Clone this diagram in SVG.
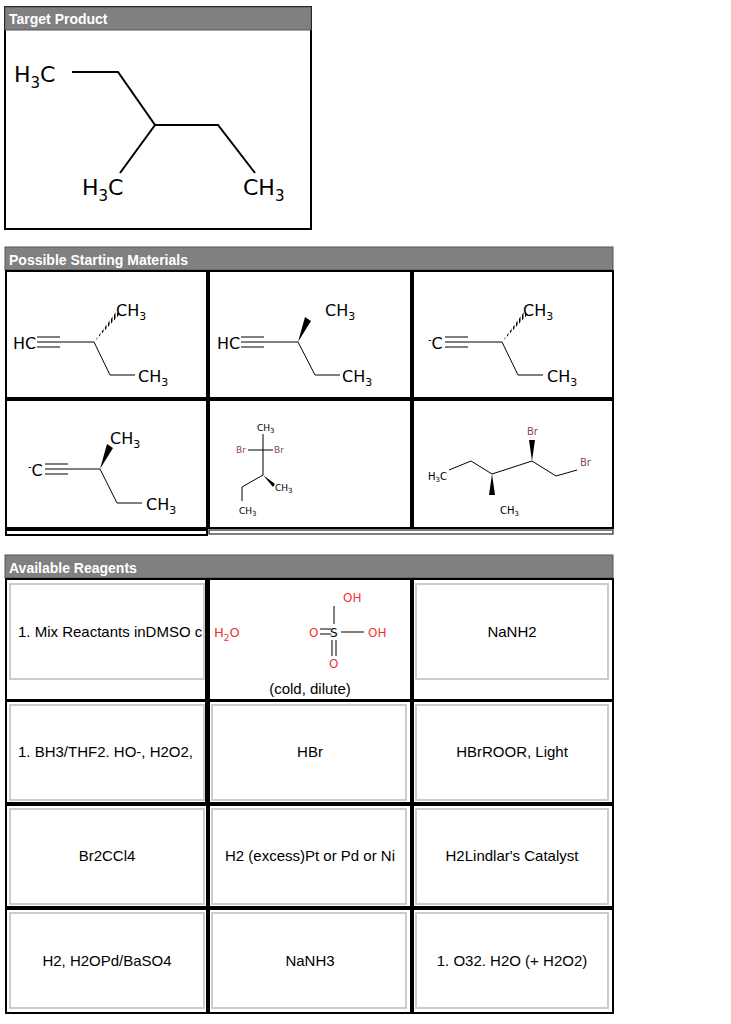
<svg xmlns="http://www.w3.org/2000/svg" width="731" height="1024" viewBox="0 0 731 1024">
<style>
.hd{fill:#808080;stroke:#555;stroke-width:1}
.ht{font:bold 14px "Liberation Sans",Arial,sans-serif;fill:#fff}
.cell{fill:#fff;stroke:#000;stroke-width:2}
.in{fill:#fff;stroke:#ccc;stroke-width:2}
.b{stroke:#000;stroke-width:2;fill:none}
.m{font-family:"DejaVu Sans",sans-serif;fill:#000}
.t{font:15px "Liberation Sans",Arial,sans-serif;fill:#000}
.r{fill:#e33}
.br{fill:#8b4a4a}
.th{stroke:#000;stroke-width:1;fill:none}
</style>
<rect width="731" height="1024" fill="#fff"/>
<g id="target">
<rect x="5" y="7" width="306" height="222" class="cell"/>
<rect x="5" y="7" width="306" height="23" class="hd"/>
<text x="9" y="24" class="ht">Target Product</text>
<text x="14" y="82" class="m" font-size="22">H<tspan font-size="15" dy="6">3</tspan><tspan dy="-6">C</tspan></text>
<path d="M72 72H118L155 125L120 173M155 125H218L255 173" class="b"/>
<text x="82" y="195" class="m" font-size="22">H<tspan font-size="15" dy="6">3</tspan><tspan dy="-6">C</tspan></text>
<text x="243" y="195" class="m" font-size="22">CH<tspan font-size="15" dy="6">3</tspan></text>
</g>
<g id="sm-header"><rect x="5" y="247" width="608" height="23" class="hd"/><text x="9" y="265" class="ht">Possible Starting Materials</text></g>
<g id="sm-grid">
<rect x="6" y="271" width="201" height="127" class="cell"/>
<rect x="209" y="271" width="202" height="127" class="cell"/>
<rect x="413" y="271" width="200" height="127" class="cell"/>
<rect x="6" y="400" width="201" height="128" class="cell"/>
<rect x="209" y="400" width="202" height="128" class="cell"/>
<rect x="413" y="400" width="200" height="128" class="cell"/>
<rect x="6" y="530" width="201" height="5" class="cell"/>
<rect x="209" y="530" width="404" height="4" fill="#fff" stroke="#000" stroke-width="1"/>
</g>
<defs>
<pattern id="hash" width="3" height="3" patternUnits="userSpaceOnUse"><rect width="1.5" height="3" fill="#000"/></pattern>
</defs>
<g id="sm1">
<text x="13" y="349" class="m" font-size="16">HC</text>
<path d="M37 337H60M37 342H60M37 347H60M60 342H94L110 375H135" class="th" stroke-width="1.2"/>
<path d="M94 342L116 312L120 314Z" fill="url(#hash)"/>
<text x="116" y="316" class="m" font-size="16">CH<tspan font-size="11" dy="4">3</tspan></text>
<text x="138" y="382" class="m" font-size="16">CH<tspan font-size="11" dy="4">3</tspan></text>
</g>
<g id="sm2">
<text x="217" y="349" class="m" font-size="16">HC</text>
<path d="M241 337H264M241 342H264M241 347H264M264 342H298L315 375H340" class="th" stroke-width="1.2"/>
<path d="M298 342L305 317L311 321Z" fill="#000"/>
<text x="325" y="316" class="m" font-size="16">CH<tspan font-size="11" dy="4">3</tspan></text>
<text x="342" y="382" class="m" font-size="16">CH<tspan font-size="11" dy="4">3</tspan></text>
</g>
<g id="sm3">
<text x="428" y="349" class="m" font-size="16"><tspan font-size="10" dy="-6">-</tspan><tspan dy="6">C</tspan></text>
<path d="M445 337H468M445 342H468M445 347H468M468 342H502L518 375H543" class="th" stroke-width="1.2"/>
<path d="M502 342L524 312L528 314Z" fill="url(#hash)"/>
<text x="523" y="316" class="m" font-size="16">CH<tspan font-size="11" dy="4">3</tspan></text>
<text x="547" y="382" class="m" font-size="16">CH<tspan font-size="11" dy="4">3</tspan></text>
</g>
<g id="sm4">
<text x="28" y="476" class="m" font-size="16"><tspan font-size="10" dy="-6">-</tspan><tspan dy="6">C</tspan></text>
<path d="M45 464H68M45 469H68M45 474H68M68 469H100L117 503H142" class="th" stroke-width="1.2"/>
<path d="M100 469L107 444L113 448Z" fill="#000"/>
<text x="110" y="444" class="m" font-size="16">CH<tspan font-size="11" dy="4">3</tspan></text>
<text x="146" y="510" class="m" font-size="16">CH<tspan font-size="11" dy="4">3</tspan></text>
</g>
<g id="sm5">
<text x="257" y="431" class="m" font-size="9">CH<tspan font-size="7" dy="2">3</tspan></text>
<text x="236" y="453" class="m br" font-size="9">Br</text>
<text x="274" y="453" class="m br" font-size="9">Br</text>
<path d="M263 434V475M248 450H273M263 475L242 487V501" class="th" stroke-width="0.8"/>
<path d="M263 475L275 484L273 487Z" fill="#000"/>
<text x="275" y="491" class="m" font-size="9">CH<tspan font-size="7" dy="2">3</tspan></text>
<text x="239" y="514" class="m" font-size="9">CH<tspan font-size="7" dy="2">3</tspan></text>
</g>
<g id="sm6">
<text x="527" y="435" class="m br" font-size="10">Br</text>
<text x="580" y="466" class="m br" font-size="10">Br</text>
<text x="428" y="480" class="m" font-size="10">H<tspan font-size="7" dy="2">3</tspan><tspan dy="-2">C</tspan></text>
<path d="M449 470L471 461L492 474L532 461L556 476L577 470" class="th" stroke-width="1"/>
<path d="M529 440L535 440L532 461Z" fill="#000"/>
<path d="M492 474L489 495L495 495Z" fill="#000"/>
<text x="500" y="514" class="m" font-size="10">CH<tspan font-size="7" dy="2">3</tspan></text>
</g>
<g id="rg-header"><rect x="5" y="555" width="608" height="23" class="hd"/><text x="9" y="573" class="ht">Available Reagents</text></g>
<g id="rg-grid">
<rect x="6" y="579" width="201" height="121" class="cell"/>
<rect x="209" y="579" width="202" height="121" class="cell"/>
<rect x="413" y="579" width="200" height="121" class="cell"/>
<rect x="6" y="701" width="201" height="102" class="cell"/>
<rect x="209" y="701" width="202" height="102" class="cell"/>
<rect x="413" y="701" width="200" height="102" class="cell"/>
<rect x="6" y="805" width="201" height="102" class="cell"/>
<rect x="209" y="805" width="202" height="102" class="cell"/>
<rect x="413" y="805" width="200" height="102" class="cell"/>
<rect x="6" y="909" width="201" height="104" class="cell"/>
<rect x="209" y="909" width="202" height="104" class="cell"/>
<rect x="413" y="909" width="200" height="104" class="cell"/>
</g>
<g id="r1"><rect x="10" y="584" width="194" height="95" class="in"/><text x="18" y="637" class="t">1. Mix Reactants inDMSO c</text><rect x="205" y="580" width="3" height="119" fill="#000"/></g>
<g id="r2">
<text x="214" y="637" class="m r" font-size="13">H<tspan font-size="9" dy="4">2</tspan><tspan dy="-4">O</tspan></text>
<text x="343" y="602" class="m r" font-size="12">OH</text>
<text x="309" y="637" class="m r" font-size="12">O</text>
<text x="330" y="637" class="m" font-size="12" fill="#8a8a20">S</text>
<text x="368" y="637" class="m r" font-size="12">OH</text>
<text x="329" y="668" class="m r" font-size="12">O</text>
<path d="M334 606V624M341 632H364M320 629H331M320 634H331M332 640V656M336 640V656" class="th"/>
<text x="310" y="694" class="t" text-anchor="middle">(cold, dilute)</text>
</g>
<g id="r3"><rect x="416" y="584" width="192" height="95" class="in"/><text x="512" y="637" class="t" text-anchor="middle">NaNH2</text></g>
<g id="r4"><rect x="10" y="705" width="194" height="95" class="in"/><text x="18" y="757" class="t">1. BH3/THF2. HO-, H2O2,</text><rect x="205" y="702" width="3" height="100" fill="#000"/></g>
<g id="r5"><rect x="212" y="705" width="194" height="95" class="in"/><text x="310" y="757" class="t" text-anchor="middle">HBr</text></g>
<g id="r6"><rect x="416" y="705" width="192" height="95" class="in"/><text x="512" y="757" class="t" text-anchor="middle">HBrROOR, Light</text></g>
<g id="r7"><rect x="10" y="809" width="194" height="95" class="in"/><text x="107" y="861" class="t" text-anchor="middle">Br2CCl4</text></g>
<g id="r8"><rect x="212" y="809" width="194" height="95" class="in"/><text x="310" y="861" class="t" text-anchor="middle">H2 (excess)Pt or Pd or Ni</text></g>
<g id="r9"><rect x="416" y="809" width="192" height="95" class="in"/><text x="512" y="861" class="t" text-anchor="middle">H2Lindlar's Catalyst</text></g>
<g id="r10"><rect x="10" y="913" width="194" height="95" class="in"/><text x="107" y="966" class="t" text-anchor="middle">H2, H2OPd/BaSO4</text></g>
<g id="r11"><rect x="212" y="913" width="194" height="95" class="in"/><text x="310" y="966" class="t" text-anchor="middle">NaNH3</text></g>
<g id="r12"><rect x="416" y="913" width="192" height="95" class="in"/><text x="512" y="966" class="t" text-anchor="middle">1. O32. H2O (+ H2O2)</text></g>
<g id="connectors"/>
</svg>
